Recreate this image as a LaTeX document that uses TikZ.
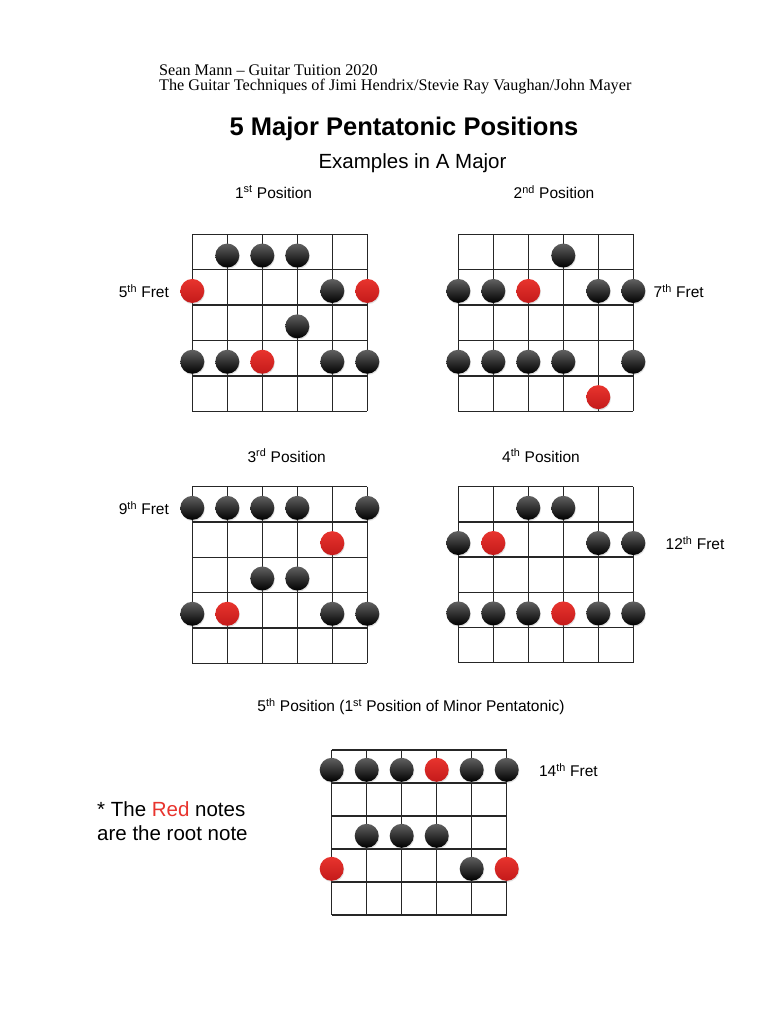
\documentclass[tikz,border=0pt]{standalone}
\usepackage{fontspec}
\setmainfont{Liberation Sans}
\newfontfamily\headfont{Liberation Serif}
\usetikzlibrary{positioning,shadows}

\definecolor{rootred}{RGB}{232,52,46}
\definecolor{rootdark}{RGB}{196,26,26}

% one fret box: name, origin, row spacing, notes string/row/style
\newcommand{\fretboard}[4]{%
  \begin{scope}[shift={#2}]
    \foreach \s in {0,...,5} \draw[fret] (\s*35,0) -- (\s*35,5*#3);
    \foreach \r in {0,...,5} \draw[fret] (0,\r*#3) -- (175,\r*#3);
    \foreach \s/\r/\c in {#4}
      \node[\c] (#1-\s-\r) at (\s*35,{(\r-0.4)*#3}) {};
  \end{scope}}

\begin{document}
\begin{tikzpicture}[x=1pt,y=-1pt,
  fret/.style={line width=1.4pt,black!85},
  dot/.style={circle,minimum size=24pt,inner sep=0pt,
    drop shadow={shadow xshift=0.6pt,shadow yshift=-1.2pt,opacity=.25}},
  blk/.style={dot,top color=black!62,bottom color=black},
  root/.style={dot,top color=rootred,bottom color=rootdark},
  lbl/.style={inner sep=0pt,font=\fontsize{15.5}{18}\selectfont},
  head/.style={anchor=west,inner sep=0pt,font=\headfont\fontsize{16.2}{18}\selectfont}
]
  \fill[white] (0,0) rectangle (768,1024);
  \useasboundingbox (0,0) rectangle (768,1024);

  % heading
  \node[head] (author) at (159,70) {Sean Mann – Guitar Tuition 2020};
  \node[head] (course) at (159,86.7) {The Guitar Techniques of Jimi Hendrix/Stevie Ray Vaughan/John Mayer};
  \node[inner sep=0pt,font=\bfseries\fontsize{25.5}{30}\selectfont] (title) at (404,129) {5 Major Pentatonic Positions};
  \node[inner sep=0pt,font=\fontsize{20.5}{24}\selectfont] (subtitle) at (412.5,163) {Examples in A Major};

  % first and second position
  \node[lbl] (pos1) at (273.6,192) {1\textsuperscript{st} Position};
  \node[lbl] (pos2) at (554,192) {2\textsuperscript{nd} Position};
  \fretboard{a}{(192.3,234.3)}{35.4}{1/1/blk,2/1/blk,3/1/blk,0/2/root,4/2/blk,5/2/root,3/3/blk,
    0/4/blk,1/4/blk,2/4/root,4/4/blk,5/4/blk}
  \fretboard{b}{(458.3,234.3)}{35.4}{3/1/blk,0/2/blk,1/2/blk,2/2/root,4/2/blk,5/2/blk,
    0/4/blk,1/4/blk,2/4/blk,3/4/blk,5/4/blk,4/5/root}
  \node[lbl,left=11pt of a-0-2] (fret5) {5\textsuperscript{th} Fret};
  \node[lbl,right=8pt of b-5-2] (fret7) {7\textsuperscript{th} Fret};

  % third and fourth position
  \node[lbl] (pos3) at (286.7,455.7) {3\textsuperscript{rd} Position};
  \node[lbl] (pos4) at (541,455.7) {4\textsuperscript{th} Position};
  \fretboard{c}{(192.3,486.7)}{35.3}{0/1/blk,1/1/blk,2/1/blk,3/1/blk,5/1/blk,4/2/root,2/3/blk,3/3/blk,
    0/4/blk,1/4/root,4/4/blk,5/4/blk}
  \fretboard{d}{(458.3,486.7)}{35.2}{2/1/blk,3/1/blk,0/2/blk,1/2/root,4/2/blk,5/2/blk,
    0/4/blk,1/4/blk,2/4/blk,3/4/root,4/4/blk,5/4/blk}
  \node[lbl,left=11pt of c-0-1] (fret9) {9\textsuperscript{th} Fret};
  \node[lbl,right=20pt of d-5-2] (fret12) {12\textsuperscript{th} Fret};

  % fifth position
  \node[lbl] (pos5) at (411,706.7) {5\textsuperscript{th} Position (1\textsuperscript{st} Position of Minor Pentatonic)};
  \fretboard{e}{(331.7,750)}{33}{0/1/blk,1/1/blk,2/1/blk,3/1/root,4/1/blk,5/1/blk,1/3/blk,2/3/blk,3/3/blk,
    0/4/root,4/4/blk,5/4/root}
  \node[lbl,right=20pt of e-5-1] (fret14) {14\textsuperscript{th} Fret};

  % note on colours
  \node[anchor=west,align=left,inner sep=0pt,font=\fontsize{20.5}{23.7}\selectfont] (key) at (97,821)
    {* The \textcolor{rootred}{Red} notes\\are the root note};
\end{tikzpicture}
\end{document}
